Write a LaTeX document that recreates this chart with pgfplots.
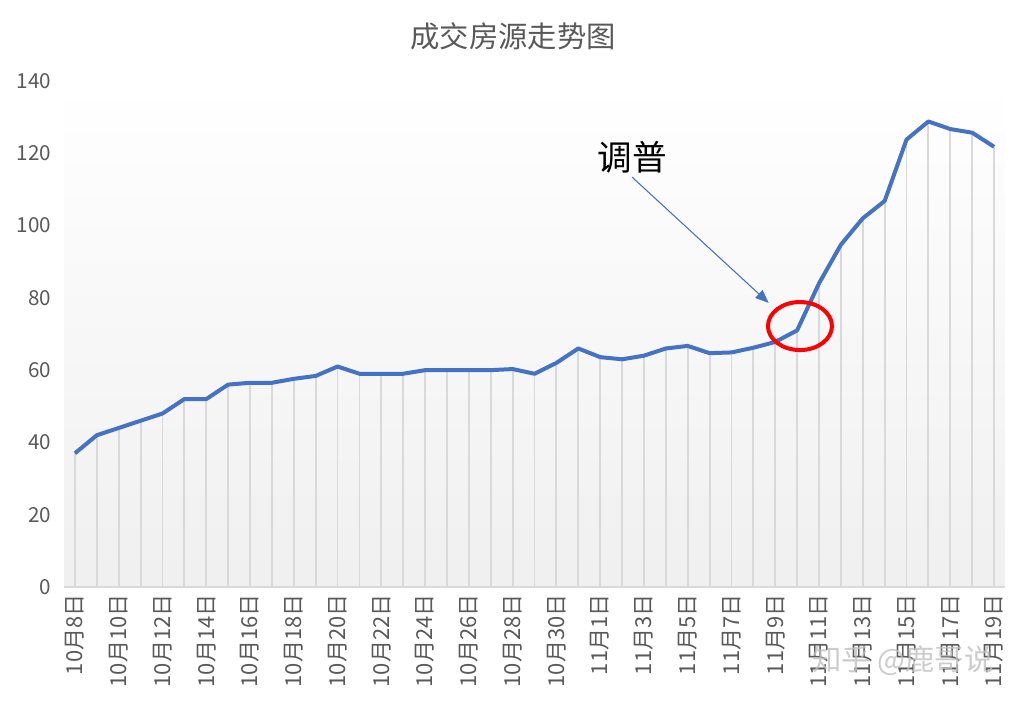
\documentclass[border=0pt]{standalone}
\usepackage{pgfplots}
\pgfplotsset{compat=1.18}
\usepackage{pgfplotstable}
\usepackage{fontspec}
\setmainfont{Noto Sans CJK SC}
\usetikzlibrary{arrows.meta,calc}

\definecolor{lineblue}{HTML}{4472C4}
\definecolor{txtgray}{HTML}{595959}
\definecolor{dropgray}{HTML}{D9D9D9}

% 成交房源 10月8日 -- 11月19日
\pgfplotstableread{
x  y
0  37
1  42
2  44
3  46
4  48
5  52
6  52
7  56
8  56.5
9  56.5
10 57.6
11 58.4
12 61
13 59
14 59
15 59
16 60
17 60
18 60
19 60
20 60.3
21 59
22 62
23 66
24 63.6
25 63
26 64
27 66
28 66.7
29 64.7
30 64.9
31 66.2
32 67.8
33 71
34 84
35 94.7
36 102
37 106.8
38 123.8
39 128.8
40 126.7
41 125.7
42 121.8
}\datatable

\begin{document}
\begin{tikzpicture}
\begin{axis}[
    name=ax,
    scale only axis,
    width=705.75pt, height=379.5pt,
    xmin=-0.5, xmax=42.5,
    ymin=0, ymax=140,
    ytick={0,20,...,140},
    xtick={0,2,...,42},
    xticklabels={10月8日,10月10日,10月12日,10月14日,10月16日,10月18日,10月20日,10月22日,10月24日,10月26日,10月28日,10月30日,11月1日,11月3日,11月5日,11月7日,11月9日,11月11日,11月13日,11月15日,11月17日,11月19日},
    axis x line*=bottom,
    axis y line*=left,
    x axis line style={draw=dropgray, line width=1.2pt, -},
    y axis line style={draw=none},
    tick style={draw=none},
    /pgf/number format/assume math mode=true,
    ticklabel style={text=txtgray},
    yticklabel style={font=\fontsize{15.5}{15.5}\selectfont, anchor=east, xshift=-6pt},
    xticklabel style={font=\fontsize{16.5}{16.5}\selectfont, rotate=90, anchor=east, xshift=-2pt},
    axis background/.style={top color=white, bottom color=black!6},
    clip=false,
    title={成交房源走势图},
    title style={font=\fontsize{22}{22}\selectfont, text=txtgray, yshift=14pt, xshift=-16pt},
]
\addplot[ycomb, draw=dropgray, line width=1.4pt] table[x=x,y=y] {\datatable};
\addplot[lineblue, line width=3pt, line join=round] table[x=x,y=y] {\datatable};

\node[font=\fontsize{26}{26}\selectfont, text=black] at (axis cs:25.46,118.8) {调普};
\draw[lineblue, line width=0.8pt, -{Triangle[length=10pt,width=8pt]}]
    (axis cs:25.46,113.4) -- (axis cs:31.7,78.6);
\draw[red, line width=3pt] (axis cs:33.13,72.2) ellipse [x radius=24pt, y radius=18pt];
\end{axis}
\node[font=\fontsize{22}{22}\selectfont, text=black!25, opacity=0.8, anchor=west]
    at ($(ax.south east)+(-148pt,-55pt)$) {知乎 @鹿哥说};
\useasboundingbox ($(ax.south west)+(-48pt,-84.75pt)$) rectangle ($(ax.north east)+(17.25pt,60.75pt)$);
\end{tikzpicture}
\end{document}
